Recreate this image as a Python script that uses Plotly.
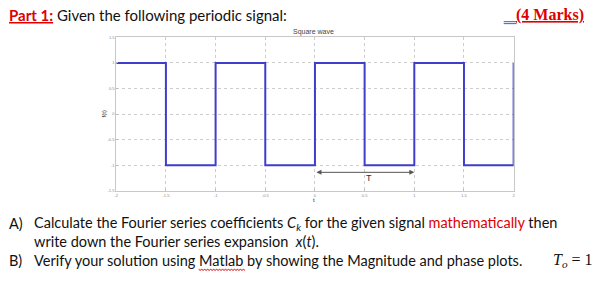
import plotly.graph_objects as go

# Square wave: values at each switching instant (drawn with a step shape)
t_points = [-2, -1.5, -1, -0.5, 0, 0.5, 1, 1.5, 2]
f_points = [1, -1, 1, -1, 1, -1, 1, -1, 1]

x_ticks = [-2, -1.5, -1, -0.5, 0, 0.5, 1, 1.5, 2]
y_ticks = [-1.5, -1, -0.5, 0, 0.5, 1, 1.5]

period_start = 0
period_end = 1
period_level = -1.14

W, H = 614, 292
X0, X1 = 115, 515
Y0, Y1 = 35, 191


def px(x):
    return x / W


def py(y):
    return 1 - y / H


fig = go.Figure()
fig.add_trace(go.Scatter(
    x=t_points, y=f_points, mode="lines", line_shape="hv",
    line=dict(color="rgb(62,62,205)", width=2), cliponaxis=False,
    hoverinfo="skip", showlegend=False,
))

grid = dict(showgrid=True, gridcolor="rgba(200,200,200,0.9)", gridwidth=1,
            griddash="dot", zeroline=False, showline=True, mirror=True,
            linecolor="#c8c8c8", linewidth=1, ticks="inside", ticklen=2,
            tickcolor="#bbb", tickfont=dict(size=4, color="#888", family="Liberation Sans"))

fig.update_layout(
    width=W, height=H, margin=dict(l=0, r=0, t=0, b=0),
    paper_bgcolor="white", plot_bgcolor="white",
    xaxis=dict(domain=[px(X0), px(X1)], range=[-2, 2], tickvals=x_ticks,
               ticktext=[f"{v:g}" for v in x_ticks], **grid),
    yaxis=dict(domain=[py(Y1), py(Y0)], range=[-1.5, 1.5], tickvals=y_ticks,
               ticktext=[f"{v:g}" for v in y_ticks], **grid),
)


def note(x, y, text, font, xanchor="center", **kw):
    return dict(x=px(x), y=py(y), xref="paper", yref="paper", text=text,
                xanchor=xanchor, yanchor="middle", showarrow=False, font=font, **kw)


ann = []
# period marker
ann.append(dict(x=period_end, y=period_level, ax=period_start, ay=period_level,
                xref="x", yref="y", axref="x", ayref="y", text="",
                showarrow=True, arrowhead=2, startarrowhead=2, arrowside="end+start",
                arrowsize=1, arrowwidth=1, arrowcolor="#555"))
ann.append(dict(x=0.54, y=-1.25, xref="x", yref="y", text="T", showarrow=False,
                yanchor="middle", font=dict(size=9, color="#333", family="Liberation Sans")))
# chart title and axis labels
ann.append(note(314, 30, "Square wave", dict(size=7, color="#444", family="Liberation Sans")))
ann.append(note(314, 200, "t", dict(size=6, color="#222", family="Liberation Sans")))
ann.append(note(103, 113, "f(t)", dict(size=6, color="#222", family="Liberation Sans"),
                textangle=-90))

head = dict(family="Lato", size=15, color="#111")
body = dict(family="Lato", size=14.5, color="#111")
ann.append(note(5, 12, "<span style='color:#e00000'><b><u>Part 1:</u></b></span> "
                       "Given the following periodic signal:", head, "left"))
ann.append(note(588, 12, "<b><u>(4 Marks)</u></b>",
                dict(family="Liberation Serif", size=16, color="#e00000"), "right"))
ann.append(note(5, 224, "A)", body, "left"))
ann.append(note(30, 224, "Calculate the Fourier series coefficients <i>C<sub>k</sub></i> for the "
                         "given signal <span style='color:#e00000'>mathematically</span> then",
                body, "left"))
ann.append(note(30, 243, "write down the Fourier series expansion  <i>x</i>(<i>t</i>).", body, "left"))
ann.append(note(5, 262, "B)", body, "left"))
ann.append(note(30, 262, "Verify your solution using Matlab by showing the Magnitude and phase plots.",
                body, "left"))
ann.append(note(597, 262, "<i>T<sub>o</sub></i> = 1",
                dict(family="Liberation Serif", size=16, color="#111"), "right"))
fig.update_layout(annotations=ann)

shapes = []
# blue double underline in the heading
for yy in (19, 21):
    shapes.append(dict(type="line", xref="paper", yref="paper", x0=px(505), x1=px(518),
                       y0=py(yy), y1=py(yy), line=dict(color="#3366cc", width=1)))
# red wavy spell-check underline
pts = []
xx = 198
k = 0
while xx <= 245:
    pts.append((px(xx), py(271 + (1 if k % 2 else 0))))
    xx += 1.5
    k += 1
path = "M " + " L ".join(f"{a:.5f},{b:.5f}" for a, b in pts)
shapes.append(dict(type="path", xref="paper", yref="paper", path=path,
                   line=dict(color="#e00000", width=1)))
fig.update_layout(shapes=shapes)

fig.write_html("out.html")
